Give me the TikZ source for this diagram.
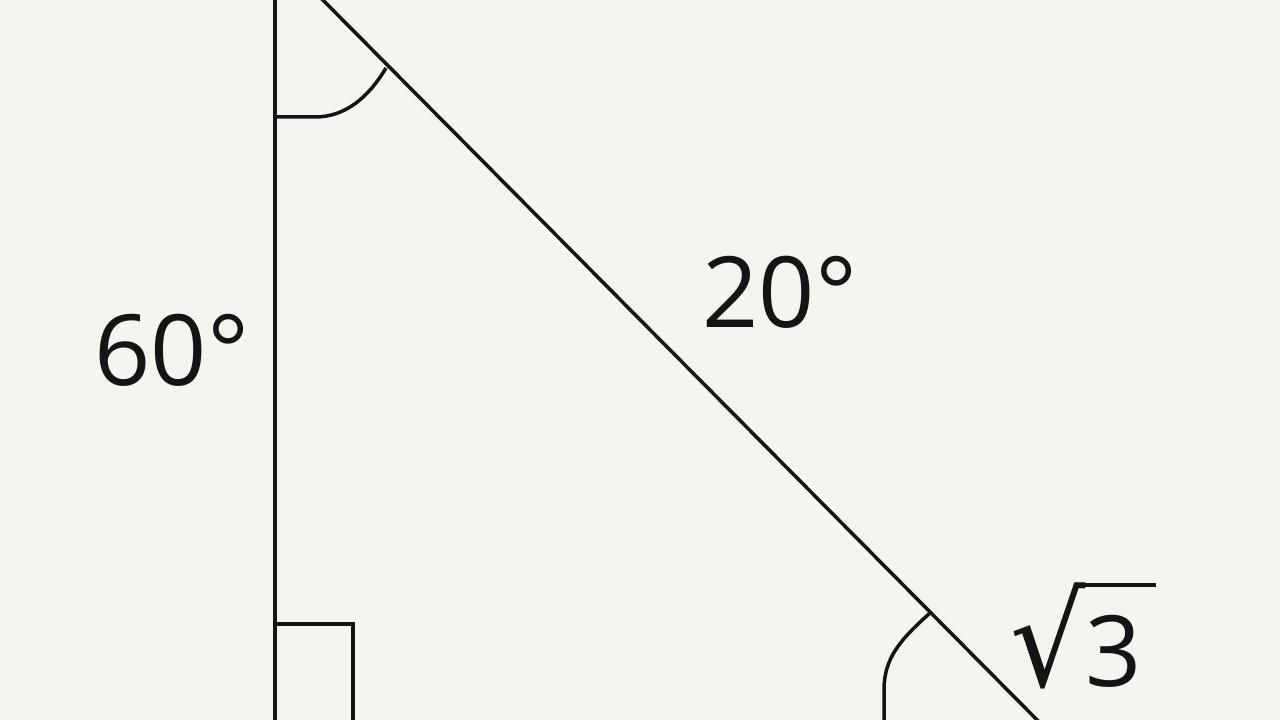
\documentclass[tikz,border=0pt]{standalone}
\usepackage{fontspec}
\setmainfont{Open Sans}
\newfontfamily\symfont{DejaVu Sans}
\usetikzlibrary{calc}

\begin{document}
\begin{tikzpicture}
    \definecolor{paper}{rgb}{0.965,0.957,0.937}
    \definecolor{ink}{rgb}{0.08,0.08,0.08}
    \tikzset{edge/.style={line width=0.35mm, draw=ink}, angletxt/.style={font=\fontsize{28}{30}\selectfont, text=ink, inner sep=0pt}}
    \fill[paper] (0,0) rectangle (12.8,7.2);
    \useasboundingbox (0,0) rectangle (12.8,7.2);
    % Triangle sides
    \coordinate (top) at (2.75, 7.40);
    \coordinate (foot) at (2.75, -0.20);
    \coordinate (hypA) at (3.03, 7.40);
    \coordinate (hypB) at (10.57, -0.20);
    \draw[edge] (top) -- (foot);
    \draw[edge] (hypA) -- (hypB);
    % Right angle mark
    \draw[edge] (2.75, 0.96) -- (3.53, 0.96) -- (3.53, -0.20);
    % Angle arcs
    \draw[edge] (2.75, 6.03) -- (3.15, 6.03) .. controls (3.45, 6.03) and (3.68, 6.22) .. (3.86, 6.52);
    \draw[edge] (9.30, 1.07) .. controls (9.00, 0.80) and (8.84, 0.62) .. (8.84, 0.30) -- (8.84, -0.20);
    % Labels
    \node[angletxt] (ang60) at (1.72, 3.70) {60°};
    \node[angletxt] (ang20) at (7.80, 4.28) {20°};
    \node[angletxt, anchor=base west] (root3) at (10.10, 0.33) {{\symfont\scalebox{1.2}[1.3]{√}}\kern-2pt\rlap{\rule[1.02em]{0.78em}{0.35mm}}\kern2pt 3};
\end{tikzpicture}
\end{document}
